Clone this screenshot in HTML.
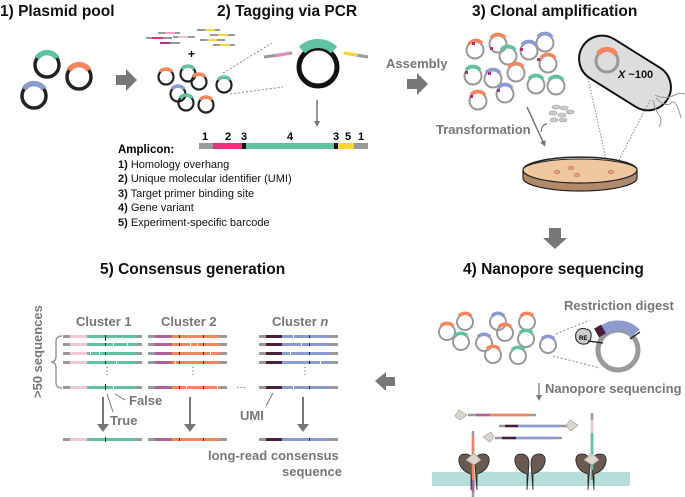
<!DOCTYPE html>
<html><head><meta charset="utf-8"><style>
body{margin:0;background:#fff}
svg{display:block;font-family:"Liberation Sans",Arial,sans-serif}
.t{font-weight:bold;font-size:15.5px;fill:#111}
.g{fill:#777;font-weight:bold;font-size:13px}
.s{font-size:11px;fill:#111}
</style></head><body>
<svg width="685" height="497" viewBox="0 0 685 497" xmlns="http://www.w3.org/2000/svg">
<defs>
<marker id="ah" markerWidth="6" markerHeight="6" refX="3" refY="3" orient="auto" markerUnits="userSpaceOnUse"><path d="M0,0 L6,3 L0,6z" fill="#777"/></marker>
</defs>
<!-- titles -->
<text class="t" x="0" y="16">1) Plasmid pool</text>
<text class="t" x="217" y="16">2) Tagging via PCR</text>
<text class="t" x="472" y="16">3) Clonal amplification</text>
<text class="t" x="463" y="274">4) Nanopore sequencing</text>
<text class="t" x="100" y="274">5) Consensus generation</text>

<!-- section 1 -->
<g fill="none" stroke-width="3.5">
<circle cx="47" cy="65" r="12" stroke="#222"/><path d="M37,58 A12,12 0 0 1 57,58" stroke="#5fc2a0" stroke-width="5.5"/>
<circle cx="79" cy="77" r="12" stroke="#222"/><path d="M69,70 A12,12 0 0 1 89,70" stroke="#f4855c" stroke-width="5.5"/>
<circle cx="34" cy="96" r="12" stroke="#222"/><path d="M24,89 A12,12 0 0 1 44,89" stroke="#8b9bd0" stroke-width="5.5"/>
</g>
<path d="M116,75 H126 V69 L137,80 L126,91 V85 H116z" fill="#777"/>

<!-- section 2 primers -->
<g stroke-width="2">
<line x1="158" y1="33" x2="180" y2="33" stroke="#999"/><line x1="165" y1="33" x2="175" y2="33" stroke="#f0a0c8"/>
<line x1="146" y1="38" x2="172" y2="38" stroke="#999"/><line x1="152" y1="38" x2="163" y2="38" stroke="#e6307d"/>
<line x1="160" y1="43" x2="180" y2="43" stroke="#999"/><line x1="160" y1="43" x2="170" y2="43" stroke="#b0307d"/>
<line x1="173" y1="37" x2="195" y2="37" stroke="#999"/><line x1="178" y1="37" x2="188" y2="37" stroke="#f0c8dc"/>
<line x1="197" y1="30" x2="220" y2="30" stroke="#999"/><line x1="205" y1="30" x2="215" y2="30" stroke="#fcd630"/>
<line x1="210" y1="35" x2="235" y2="35" stroke="#999"/><line x1="218" y1="35" x2="228" y2="35" stroke="#fcd630"/>
<line x1="200" y1="40" x2="225" y2="40" stroke="#999"/><line x1="207" y1="40" x2="217" y2="40" stroke="#fcd630"/>
<line x1="213" y1="45" x2="235" y2="45" stroke="#999"/><line x1="220" y1="45" x2="230" y2="45" stroke="#fcd630"/>
</g>
<text x="188" y="58" font-size="12" font-weight="bold">+</text>
<g fill="none" stroke="#222" stroke-width="2.2">
<circle cx="166" cy="77" r="7.5"/><circle cx="188" cy="74" r="7.5"/><circle cx="199" cy="82" r="7.5"/><circle cx="224" cy="85" r="7.5"/>
<circle cx="178" cy="94" r="7.5"/><circle cx="186" cy="103" r="7.5"/><circle cx="206" cy="105" r="7.5"/>
</g>
<g fill="none" stroke-width="3.5">
<path d="M160,72 A7.5,7.5 0 0 1 172,72" stroke="#f4855c"/><path d="M182,69 A7.5,7.5 0 0 1 194,69" stroke="#5fc2a0"/>
<path d="M193,77 A7.5,7.5 0 0 1 205,77" stroke="#f4855c"/><path d="M218,80 A7.5,7.5 0 0 1 230,80" stroke="#5fc2a0"/>
<path d="M172,89 A7.5,7.5 0 0 1 184,89" stroke="#8b9bd0"/><path d="M180,98 A7.5,7.5 0 0 1 192,98" stroke="#5fc2a0"/>
<path d="M200,100 A7.5,7.5 0 0 1 212,100" stroke="#f4855c"/>
</g>
<line x1="223" y1="73" x2="272" y2="43" stroke="#888" stroke-dasharray="2,2"/>
<line x1="230" y1="94" x2="283" y2="87" stroke="#888" stroke-dasharray="2,2"/>
<circle cx="318" cy="67" r="19" fill="none" stroke="#111" stroke-width="5"/>
<path d="M302,50 A23,23 0 0 1 334,50" fill="none" stroke="#5fc2a0" stroke-width="9"/>
<line x1="264" y1="57" x2="292" y2="53" stroke="#999" stroke-width="3"/><line x1="275" y1="56" x2="290" y2="53" stroke="#e88ac0" stroke-width="3"/>
<line x1="344" y1="53" x2="368" y2="57" stroke="#999" stroke-width="3"/><line x1="344" y1="53" x2="358" y2="55" stroke="#fcd630" stroke-width="3"/>
<line x1="317" y1="100" x2="317" y2="124" stroke="#777" stroke-width="1.5" marker-end="url(#ah)"/>
<!-- amplicon -->
<rect x="199" y="143" width="14" height="6" fill="#999"/><rect x="213" y="143" width="29" height="6" fill="#e6307d"/>
<rect x="242" y="143" width="4" height="6" fill="#111"/><rect x="246" y="143" width="88" height="6" fill="#5fc2a0"/>
<rect x="334" y="143" width="4" height="6" fill="#111"/><rect x="338" y="143" width="16" height="6" fill="#fcd630"/>
<rect x="354" y="143" width="14" height="6" fill="#999"/>
<g font-size="11" font-weight="bold" text-anchor="middle"><text x="205" y="140">1</text><text x="228" y="140">2</text><text x="244" y="140">3</text><text x="290" y="140">4</text><text x="336" y="140">3</text><text x="348" y="140">5</text><text x="361" y="140">1</text></g>
<text x="118" y="153" font-size="11.5" font-weight="bold">Amplicon:</text>
<text class="s" x="118" y="168"><tspan font-weight="bold">1)</tspan> Homology overhang</text>
<text class="s" x="118" y="182"><tspan font-weight="bold">2)</tspan> Unique molecular identifier (UMI)</text>
<text class="s" x="118" y="197"><tspan font-weight="bold">3)</tspan> Target primer binding site</text>
<text class="s" x="118" y="211"><tspan font-weight="bold">4)</tspan> Gene variant</text>
<text class="s" x="118" y="226"><tspan font-weight="bold">5)</tspan> Experiment-specific barcode</text>

<!-- section 3 -->
<text class="g" x="386" y="68">Assembly</text>
<path d="M407,79 H417 V73 L428,84 L417,95 V89 H407z" fill="#777"/>
<g fill="none" stroke="#999" stroke-width="2">
<circle cx="475" cy="50" r="8.5"/><circle cx="498" cy="44" r="8.5"/><circle cx="508" cy="56" r="8.5"/><circle cx="529" cy="51" r="8.5"/><circle cx="545" cy="43" r="8.5"/><circle cx="548" cy="64" r="8.5"/>
<circle cx="473" cy="76" r="8.5"/><circle cx="493" cy="79" r="8.5"/><circle cx="516" cy="73" r="8.5"/><circle cx="536" cy="85" r="8.5"/><circle cx="556" cy="86" r="8.5"/>
<circle cx="478" cy="101" r="8.5"/><circle cx="505" cy="94" r="8.5"/>
</g>
<g fill="none" stroke-width="3.5">
<path d="M469,44 A8.5,8.5 0 0 1 482,43" stroke="#f4855c"/><path d="M491,38 A8.5,8.5 0 0 1 505,38" stroke="#f4855c"/>
<path d="M501,50 A8.5,8.5 0 0 1 515,50" stroke="#5fc2a0"/><path d="M522,45 A8.5,8.5 0 0 1 536,45" stroke="#8b9bd0"/>
<path d="M538,37 A8.5,8.5 0 0 1 552,37" stroke="#8b9bd0"/><path d="M541,58 A8.5,8.5 0 0 1 555,58" stroke="#f4855c"/>
<path d="M466,70 A8.5,8.5 0 0 1 480,70" stroke="#5fc2a0"/><path d="M486,73 A8.5,8.5 0 0 1 500,73" stroke="#8b9bd0"/>
<path d="M509,67 A8.5,8.5 0 0 1 523,67" stroke="#f4855c"/><path d="M529,79 A8.5,8.5 0 0 1 543,79" stroke="#5fc2a0"/>
<path d="M549,80 A8.5,8.5 0 0 1 563,80" stroke="#5fc2a0"/><path d="M471,95 A8.5,8.5 0 0 1 485,95" stroke="#f4855c"/>
<path d="M498,88 A8.5,8.5 0 0 1 512,88" stroke="#8b9bd0"/>
</g>
<g fill="#b0307d"><rect x="472" y="42" width="3" height="3"/><rect x="490" y="47" width="3" height="3"/><rect x="520" y="48" width="3" height="3"/><rect x="465" y="71" width="3" height="3"/><rect x="488" y="72" width="3" height="3"/><rect x="537" y="58" width="3" height="3"/><rect x="497" y="89" width="3" height="3"/><rect x="470" y="95" width="3" height="3"/></g>
<g transform="translate(625,73) rotate(32)"><rect x="-50" y="-23" width="100" height="46" rx="23" fill="#ddd" stroke="#111" stroke-width="2"/></g>
<circle cx="607" cy="61" r="11" fill="none" stroke="#999" stroke-width="3"/>
<path d="M598,54 A11,11 0 0 1 616,54" fill="none" stroke="#f4855c" stroke-width="5"/>
<text x="618" y="78" font-size="11" font-weight="bold" fill="#111"><tspan font-style="italic">X</tspan> ~100</text>
<g fill="none" stroke="#999" stroke-width="1"><path d="M655,95 q10,5 20,0 t15,5"/><path d="M656,98 q10,10 15,5 t10,15"/><path d="M653,100 q2,10 6,15 t0,12"/></g>
<line x1="588" y1="78" x2="608" y2="168" stroke="#888" stroke-dasharray="1.5,1.5"/>
<line x1="650" y1="100" x2="615" y2="168" stroke="#888" stroke-dasharray="1.5,1.5"/>
<text class="g" x="436" y="134">Transformation</text>
<path d="M527,107 L544,144" stroke="#777" stroke-width="1.5" marker-end="url(#ah)"/>
<path d="M547,124 q-5,0 -6,8" stroke="#777" fill="none" stroke-width="1.2"/>
<g fill="#ccc" stroke="#999" stroke-width="0.6"><ellipse cx="556" cy="107" rx="4" ry="2"/><ellipse cx="564" cy="108" rx="4" ry="2"/><ellipse cx="553" cy="113" rx="4" ry="2"/><ellipse cx="562" cy="115" rx="4" ry="2"/><ellipse cx="570" cy="112" rx="4" ry="2"/><ellipse cx="554" cy="120" rx="4" ry="2"/><ellipse cx="563" cy="120" rx="4" ry="2"/></g>
<path d="M523,170 v8 a57,13 0 0 0 114,0 v-8" fill="#b08a6a" stroke="#222" stroke-width="1.2"/>
<ellipse cx="580" cy="170" rx="57" ry="13" fill="#f0c8a0" stroke="#222" stroke-width="1.2"/>
<path d="M524,168 a57,11 0 0 1 112,0 a57,13 0 0 0 -112,0" fill="#fff" stroke="#222" stroke-width="1"/>
<g fill="#f4a070" stroke="#a06040" stroke-width="0.5"><ellipse cx="557" cy="172" rx="3" ry="1.6"/><ellipse cx="571" cy="168" rx="3" ry="1.6"/><ellipse cx="577" cy="175" rx="3" ry="1.6"/><ellipse cx="611" cy="172" rx="3" ry="1.6"/></g>
<path d="M549,228 H561 V238 H567 L555,249 L543,238 H549z" fill="#777"/>

<!-- section 4 -->
<text class="g" x="564" y="310">Restriction digest</text>
<g fill="none" stroke="#999" stroke-width="2">
<circle cx="465" cy="322" r="8"/><circle cx="447" cy="332" r="8"/><circle cx="461" cy="342" r="8"/><circle cx="498" cy="322" r="8"/><circle cx="505" cy="333" r="8"/><circle cx="527" cy="322" r="8"/>
<circle cx="484" cy="343" r="8"/><circle cx="526" cy="339" r="8"/><circle cx="493" cy="355" r="8"/><circle cx="518" cy="356" r="8"/><circle cx="548" cy="345" r="8"/>
</g>
<g fill="none" stroke-width="3.5">
<path d="M459,316 A8,8 0 0 1 471,316" stroke="#f4855c"/><path d="M441,326 A8,8 0 0 1 453,326" stroke="#f4855c"/>
<path d="M455,336 A8,8 0 0 1 467,336" stroke="#5fc2a0"/><path d="M492,316 A8,8 0 0 1 504,316" stroke="#8b9bd0"/>
<path d="M499,327 A8,8 0 0 1 511,327" stroke="#f4855c"/><path d="M521,316 A8,8 0 0 1 533,316" stroke="#f4855c"/>
<path d="M478,337 A8,8 0 0 1 490,337" stroke="#8b9bd0"/><path d="M520,333 A8,8 0 0 1 532,333" stroke="#5fc2a0"/>
<path d="M487,349 A8,8 0 0 1 499,349" stroke="#f4855c"/><path d="M512,350 A8,8 0 0 1 524,350" stroke="#5fc2a0"/>
<path d="M542,339 A8,8 0 0 1 554,339" stroke="#8b9bd0"/>
</g>
<line x1="556" y1="334" x2="590" y2="320" stroke="#888" stroke-dasharray="2,2"/>
<line x1="553" y1="356" x2="600" y2="368" stroke="#888" stroke-dasharray="2,2"/>
<circle cx="618" cy="350" r="20" fill="none" stroke="#999" stroke-width="5"/>
<path d="M600,333 A25,25 0 0 1 636,333" fill="none" stroke="#8b9bd0" stroke-width="10"/>
<rect x="596" y="326" width="8" height="10" fill="#4a1e3a" transform="rotate(-30 600 331)"/>
<path d="M576,333 q3,-6 10,-4 q6,1 5,8 q-1,8 -9,7 q-8,-2 -6,-11z" fill="#ccc" stroke="#222" stroke-width="1"/>
<text x="579" y="340" font-size="6" font-weight="bold">RE</text>
<line x1="588" y1="341" x2="603" y2="343" stroke="#111" stroke-width="1.2"/>
<line x1="630" y1="339" x2="640" y2="332" stroke="#111" stroke-width="1.2"/>
<line x1="539" y1="383" x2="539" y2="398" stroke="#555" stroke-width="1" marker-end="url(#ah)"/>
<text class="g" x="545" y="393">Nanopore sequencing</text>
<rect x="432" y="472" width="198" height="14" fill="#b5dedb"/>
<!-- reads -->
<g stroke-width="2.5">
<line x1="468" y1="415" x2="536" y2="415" stroke="#999"/><line x1="476" y1="415" x2="490" y2="415" stroke="#b0609a"/><line x1="490" y1="415" x2="530" y2="415" stroke="#f4855c"/>
<line x1="499" y1="426" x2="567" y2="426" stroke="#999"/><line x1="505" y1="426" x2="518" y2="426" stroke="#4a1e3a"/><line x1="518" y1="426" x2="560" y2="426" stroke="#8b9bd0"/>
<line x1="495" y1="438" x2="562" y2="438" stroke="#999"/><line x1="502" y1="438" x2="516" y2="438" stroke="#4a1e3a"/><line x1="516" y1="438" x2="556" y2="438" stroke="#8b9bd0"/>
<line x1="473" y1="431" x2="473" y2="497" stroke="#999"/><line x1="473" y1="436" x2="473" y2="478" stroke="#f4855c"/><line x1="473" y1="478" x2="473" y2="492" stroke="#b0609a"/>
<line x1="592" y1="413" x2="592" y2="480" stroke="#999"/><line x1="592" y1="420" x2="592" y2="433" stroke="#f0c8dc"/><line x1="592" y1="433" x2="592" y2="470" stroke="#5fc2a0"/>
</g>
<g fill="#6b5a50" stroke="#222" stroke-width="0.8">
<g transform="translate(474,0)"><path d="M-3,490 v-16 q-10,-3 -12,-12 q-1,-8 6,-8 q8,0 8,10 z"/><path d="M3,490 v-16 q10,-3 12,-12 q1,-8 -6,-8 q-8,0 -8,10 z"/></g>
<g transform="translate(530,0)"><path d="M-3,490 v-16 q-10,-3 -12,-12 q-1,-8 6,-8 q8,0 8,10 z"/><path d="M3,490 v-16 q10,-3 12,-12 q1,-8 -6,-8 q-8,0 -8,10 z"/></g>
<g transform="translate(591,0)"><path d="M-3,490 v-16 q-10,-3 -12,-12 q-1,-8 6,-8 q8,0 8,10 z"/><path d="M3,490 v-16 q10,-3 12,-12 q1,-8 -6,-8 q-8,0 -8,10 z"/></g>
</g>
<g stroke-width="2.5"><line x1="473" y1="455" x2="473" y2="480" stroke="#f4855c"/><line x1="473" y1="480" x2="473" y2="492" stroke="#b0609a"/><line x1="592" y1="455" x2="592" y2="470" stroke="#5fc2a0"/></g>
<g fill="#ddd5cc" stroke="#999" stroke-width="0.6">
<path d="M459,410 l8,5 l-7,5 l-5,-4z"/><path d="M570,420 l8,5 l-7,6 l-5,-5z"/><path d="M491,432 l-8,5 l7,5 l4,-5z"/>
<path d="M466,460 l8,-7 l7,7 l-7,5z"/><path d="M584,460 l8,-7 l7,7 l-7,5z"/>
</g>

<!-- section 5 -->
<path d="M375,381 L386,372 V377 H395 V386 H386 V391z" fill="#777"/>
<g class="g" font-size="13"><text x="76" y="326" fill="#777">Cluster 1</text><text x="161" y="326" fill="#777">Cluster 2</text><text x="272" y="326" fill="#777">Cluster <tspan font-style="italic">n</tspan></text></g>
<text class="g" transform="translate(42,398) rotate(-90)">&gt;50 sequences</text>
<path d="M62,336 q-6,0 -6,6 v14 q0,6 -5,6 q5,0 5,6 v14 q0,6 6,6" fill="none" stroke="#999" stroke-width="1.5"/>
<g>
<g>
<rect x="63" y="335" width="79" height="3" fill="#999"/><rect x="70" y="335" width="17" height="3" fill="#f0c8dc"/><rect x="87" y="335" width="48" height="3" fill="#5fc2a0"/>
<rect x="63" y="343" width="79" height="3" fill="#999"/><rect x="70" y="343" width="17" height="3" fill="#f0c8dc"/><rect x="87" y="343" width="48" height="3" fill="#5fc2a0"/>
<rect x="63" y="352" width="79" height="3" fill="#999"/><rect x="70" y="352" width="17" height="3" fill="#f0c8dc"/><rect x="87" y="352" width="48" height="3" fill="#5fc2a0"/>
<rect x="63" y="361" width="79" height="3" fill="#999"/><rect x="70" y="361" width="17" height="3" fill="#f0c8dc"/><rect x="87" y="361" width="48" height="3" fill="#5fc2a0"/>
<rect x="63" y="386" width="79" height="3" fill="#999"/><rect x="70" y="386" width="17" height="3" fill="#f0c8dc"/><rect x="87" y="386" width="48" height="3" fill="#5fc2a0"/>
<rect x="63" y="438" width="79" height="3" fill="#999"/><rect x="70" y="438" width="17" height="3" fill="#f0c8dc"/><rect x="87" y="438" width="48" height="3" fill="#5fc2a0"/>
</g>
<g>
<rect x="148" y="335" width="79" height="3" fill="#999"/><rect x="155" y="335" width="17" height="3" fill="#b0609a"/><rect x="172" y="335" width="48" height="3" fill="#f4855c"/>
<rect x="148" y="343" width="79" height="3" fill="#999"/><rect x="155" y="343" width="17" height="3" fill="#b0609a"/><rect x="172" y="343" width="48" height="3" fill="#f4855c"/>
<rect x="148" y="352" width="79" height="3" fill="#999"/><rect x="155" y="352" width="17" height="3" fill="#b0609a"/><rect x="172" y="352" width="48" height="3" fill="#f4855c"/>
<rect x="148" y="361" width="79" height="3" fill="#999"/><rect x="155" y="361" width="17" height="3" fill="#b0609a"/><rect x="172" y="361" width="48" height="3" fill="#f4855c"/>
<rect x="148" y="386" width="79" height="3" fill="#999"/><rect x="155" y="386" width="17" height="3" fill="#b0609a"/><rect x="172" y="386" width="48" height="3" fill="#f4855c"/>
<rect x="148" y="438" width="79" height="3" fill="#999"/><rect x="155" y="438" width="17" height="3" fill="#b0609a"/><rect x="172" y="438" width="48" height="3" fill="#f4855c"/>
</g>
<g>
<rect x="259" y="335" width="79" height="3" fill="#999"/><rect x="266" y="335" width="16" height="3" fill="#4a1e3a"/><rect x="282" y="335" width="48" height="3" fill="#8b9bd0"/>
<rect x="259" y="343" width="79" height="3" fill="#999"/><rect x="266" y="343" width="16" height="3" fill="#4a1e3a"/><rect x="282" y="343" width="48" height="3" fill="#8b9bd0"/>
<rect x="259" y="352" width="79" height="3" fill="#999"/><rect x="266" y="352" width="16" height="3" fill="#4a1e3a"/><rect x="282" y="352" width="48" height="3" fill="#8b9bd0"/>
<rect x="259" y="361" width="79" height="3" fill="#999"/><rect x="266" y="361" width="16" height="3" fill="#4a1e3a"/><rect x="282" y="361" width="48" height="3" fill="#8b9bd0"/>
<rect x="259" y="386" width="79" height="3" fill="#999"/><rect x="266" y="386" width="16" height="3" fill="#4a1e3a"/><rect x="282" y="386" width="48" height="3" fill="#8b9bd0"/>
<rect x="259" y="438" width="79" height="3" fill="#999"/><rect x="266" y="438" width="16" height="3" fill="#4a1e3a"/><rect x="282" y="438" width="48" height="3" fill="#8b9bd0"/>
</g>
</g>
<g fill="#222"><rect x="105" y="335" width="1" height="6"/><rect x="105" y="343" width="1" height="3"/><rect x="105" y="352" width="1" height="3"/><rect x="105" y="361" width="1" height="3"/><rect x="105" y="384" width="1" height="6"/><rect x="105" y="437" width="1" height="5"/>
<rect x="179" y="335" width="1" height="3"/><rect x="203" y="335" width="1" height="3"/><rect x="179" y="343" width="1" height="3"/><rect x="203" y="343" width="1" height="3"/><rect x="179" y="352" width="1" height="3"/><rect x="203" y="352" width="1" height="3"/><rect x="179" y="361" width="1" height="3"/><rect x="203" y="361" width="1" height="3"/><rect x="179" y="386" width="1" height="3"/><rect x="203" y="386" width="1" height="3"/><rect x="179" y="438" width="1" height="3"/><rect x="203" y="438" width="1" height="3"/>
<rect x="309" y="335" width="1" height="3"/><rect x="309" y="343" width="1" height="3"/><rect x="309" y="352" width="1" height="3"/><rect x="309" y="361" width="1" height="3"/><rect x="309" y="386" width="1" height="3"/><rect x="309" y="438" width="1" height="3"/></g>
<g fill="#fff"><rect x="113" y="343" width="1" height="3"/><rect x="127" y="343" width="1" height="3"/><rect x="90" y="352" width="1" height="3"/><rect x="116" y="361" width="1" height="3"/><rect x="113" y="386" width="1" height="3"/><rect x="99" y="352" width="1" height="3"/>
<rect x="190" y="343" width="1" height="3"/><rect x="197" y="343" width="1" height="3"/><rect x="210" y="352" width="1" height="3"/><rect x="175" y="361" width="1" height="3"/><rect x="186" y="386" width="1" height="3"/><rect x="217" y="386" width="1" height="3"/>
<rect x="293" y="335" width="1" height="3"/><rect x="301" y="343" width="1" height="3"/><rect x="290" y="352" width="1" height="3"/><rect x="320" y="361" width="1" height="3"/><rect x="293" y="386" width="1" height="3"/></g>
<g fill="#555" font-size="10"><text x="102" y="374">⋮</text><text x="188" y="374">⋮</text><text x="300" y="374">⋮</text><text x="236" y="390">···</text></g>
<g stroke="#777" stroke-width="2">
<line x1="103" y1="397" x2="103" y2="426"/><line x1="190" y1="397" x2="190" y2="426"/><line x1="303" y1="397" x2="303" y2="426"/></g>
<g fill="#777"><path d="M97,424 h12 l-6,8z"/><path d="M184,424 h12 l-6,8z"/><path d="M297,424 h12 l-6,8z"/></g>
<g stroke="#777" stroke-width="1"><line x1="107" y1="394" x2="113" y2="412"/><line x1="115" y1="394" x2="125" y2="400"/><line x1="273" y1="393" x2="266" y2="406"/></g>
<text class="g" x="129" y="405">False</text>
<text class="g" x="110" y="425">True</text>
<text class="g" x="240" y="420">UMI</text>
<text class="g" x="208" y="460">long-read consensus</text>
<text class="g" x="342" y="476" text-anchor="end">sequence</text>
</svg>
</body></html>
